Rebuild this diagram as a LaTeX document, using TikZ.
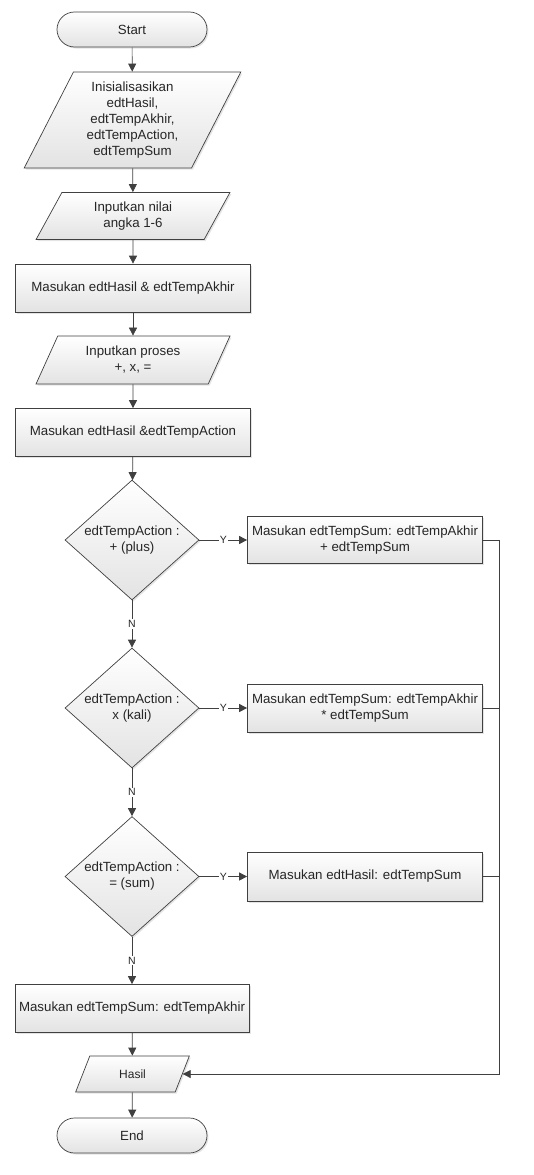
\documentclass[tikz,border=0pt]{standalone}
\usepackage{fontspec}
\setmainfont{Liberation Sans}
\usetikzlibrary{arrows.meta,shapes.geometric,shadows}

\tikzset{
  shade box/.style={draw=black!75, line width=0.7pt, top color=white, bottom color=black!11,
    drop shadow={fill=black!30, opacity=0.35, shadow xshift=1.5pt, shadow yshift=-1.5pt}},
  terminal/.style={shade box, rectangle, rounded corners=17.5pt, minimum width=150pt, minimum height=35pt},
  process/.style={shade box, rectangle, align=center, minimum width=235pt, minimum height=48pt, inner sep=2pt},
  io/.style={shade box, trapezium, trapezium left angle=63.4, trapezium right angle=116.6,
    trapezium stretches=true, align=center, inner sep=0pt},
  decision/.style={shade box, diamond, align=center, inner sep=0pt, aspect=1.12,
    minimum width=134pt, minimum height=120pt},
  yn/.style={fill=white, inner sep=1pt, font=\fontsize{10.5}{12}\selectfont},
  flow/.style={draw=black!75, line width=0.7pt, -{Triangle[length=8pt,width=8pt]}}
}

\begin{document}
\begin{tikzpicture}[x=1pt, y=-1pt, font=\fontsize{13.3}{16}\selectfont, text=black!85]
      \useasboundingbox (0,0) rectangle (534,1175);
      \node (start) at (132,29.5) [terminal] {Start};
      \node (init) at (132.5,120) [io, minimum width=217pt, minimum height=96pt]
        {Inisialisasikan\\edtHasil,\\edtTempAkhir,\\edtTempAction,\\edtTempSum};
      \draw [flow](start)--(init);
      \node (nilai) at (133,216) [io, minimum width=194pt, minimum height=47pt] {Inputkan nilai\\angka 1-6};
      \draw [flow](init)--(nilai);
      \node (akhir) at (133,288) [process] {Masukan edtHasil \& edtTempAkhir};
      \draw [flow](nilai)--(akhir);
      \node (proses) at (133,360) [io, minimum width=194pt, minimum height=48pt] {Inputkan proses\\+, x, =};
      \draw [flow](akhir)--(proses);
      \node (action) at (133,432.5) [process] {Masukan edtHasil \&edtTempAction};
      \draw [flow](proses)--(action);
      \node (plus) at (132,540) [decision] {edtTempAction :\\+ (plus)};
      \draw [flow](action)--(plus);
      \node (tambah) at (365,540) [process, minimum height=47pt] {Masukan edtTempSum: edtTempAkhir\\+ edtTempSum};
      \draw [flow](plus)-- node[yn] {Y} (tambah);
      \node (kali) at (132,708) [decision] {edtTempAction :\\x (kali)};
      \draw [flow](plus)-- node[yn] {N} (kali);
      \node (kalikan) at (365,708) [process] {Masukan edtTempSum: edtTempAkhir\\* edtTempSum};
      \draw [flow](kali)-- node[yn] {Y} (kalikan);
      \node (sum) at (132,876.5) [decision] {edtTempAction :\\= (sum)};
      \draw [flow](kali)-- node[yn] {N} (sum);
      \node (jumlah) at (365,876.5) [process, minimum height=49pt] {Masukan edtHasil: edtTempSum};
      \draw [flow](sum)-- node[yn] {Y} (jumlah);
      \node (simpan) at (132,1008.5) [process, minimum width=234pt] {Masukan edtTempSum: edtTempAkhir};
      \draw [flow](sum)-- node[yn] {N} (simpan);
      \node (hasil) at (132.5,1074) [io, minimum width=114pt, minimum height=36pt] {\fontsize{12}{14}\selectfont Hasil};
      \draw [flow](simpan)--(hasil);
      \node (end) at (132,1135.5) [terminal] {End};
      \draw [flow](hasil)--(end);
      \coordinate (back) at (499,540);
      \draw [draw=black!75, line width=0.7pt](tambah)--(back);
      \draw [draw=black!75, line width=0.7pt](kalikan)--(kalikan -| back);
      \draw [draw=black!75, line width=0.7pt](jumlah)--(jumlah -| back);
      \draw [flow](back) |- (hasil);
    \end{tikzpicture}
\end{document}
